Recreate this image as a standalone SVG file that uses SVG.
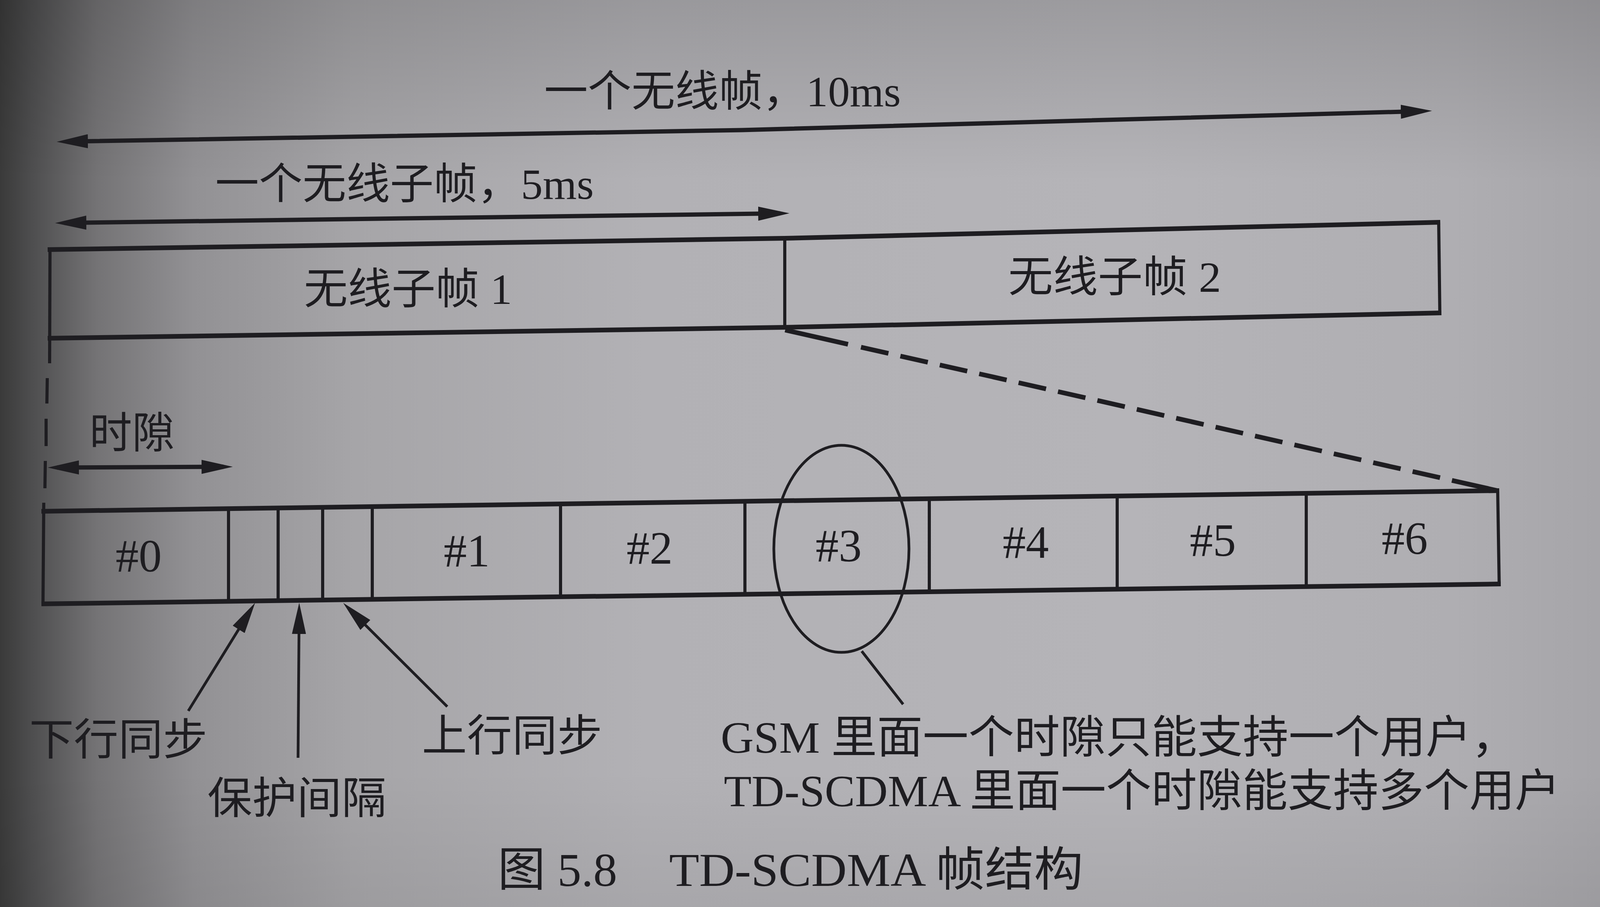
<svg xmlns="http://www.w3.org/2000/svg" width="4128" height="2322" viewBox="0 0 4128 2322">
<defs>
<linearGradient id="bgH" x1="0" y1="0" x2="1" y2="0">
<stop offset="0" stop-color="#3a3a3a"/>
<stop offset="0.02" stop-color="#4e4e4f"/>
<stop offset="0.06" stop-color="#747375"/>
<stop offset="0.12" stop-color="#929194"/>
<stop offset="0.22" stop-color="#a6a5a8"/>
<stop offset="0.4" stop-color="#b2b1b5"/>
<stop offset="0.7" stop-color="#b5b4b8"/>
<stop offset="0.9" stop-color="#afaeb2"/>
<stop offset="1" stop-color="#a5a4a8"/>
</linearGradient>
<linearGradient id="bgV" x1="0" y1="0" x2="0" y2="1">
<stop offset="0" stop-color="#000" stop-opacity="0.14"/>
<stop offset="0.2" stop-color="#000" stop-opacity="0"/>
<stop offset="0.85" stop-color="#000" stop-opacity="0"/>
<stop offset="1" stop-color="#000" stop-opacity="0.06"/>
</linearGradient>
<marker id="ah" markerUnits="userSpaceOnUse" viewBox="0 0 80 36" markerWidth="80" markerHeight="36" refX="56" refY="18" orient="auto-start-reverse">
<path d="M0,0 L80,18 L0,36 z" fill="#1e1d21"/>
</marker>
<style>
.ln{stroke:#1e1d21;fill:none;stroke-linecap:butt}
.h{stroke-width:12}
.v{stroke-width:8}
.a{stroke-width:11}
.thin{stroke-width:7}
.t{font-family:"Liberation Serif","Noto Sans CJK SC",serif;fill:#1e1d21}
.num{font-family:"Liberation Serif",serif;font-size:118px;fill:#1e1d21;text-anchor:middle}
</style>
</defs>

<rect x="0" y="0" width="4128" height="2322" fill="url(#bgH)"/>
<rect x="0" y="0" width="4128" height="2322" fill="url(#bgV)"/>

<g id="frame-label">
<text class="t" x="1393" y="272" font-size="110" textLength="913" lengthAdjust="spacingAndGlyphs">一个无线帧，10ms</text>
</g>
<g id="subframe-label">
<text class="t" x="551" y="509" font-size="110" textLength="969" lengthAdjust="spacingAndGlyphs">一个无线子帧，5ms</text>
</g>

<g id="subframe1">
<polyline class="ln h" points="122,639 2009,610"/>
<polyline class="ln h" points="122,866 2009,838"/>
<line class="ln v" x1="128" y1="635" x2="127" y2="930"/>
<line class="ln v" x1="2009" y1="606" x2="2009" y2="842"/>
<text class="t" x="778" y="778" font-size="110" textLength="533" lengthAdjust="spacingAndGlyphs">无线子帧 1</text>
</g>

<g id="subframe2">
<polyline class="ln h" points="2009,610 3687,569"/>
<polyline class="ln h" points="2009,838 3690,801"/>
<line class="ln v" x1="3683" y1="565" x2="3686" y2="805"/>
<text class="t" x="2581" y="747" font-size="110" textLength="545" lengthAdjust="spacingAndGlyphs">无线子帧 2</text>
</g>

<g id="slot-row">
<line class="ln h" x1="106" y1="1309" x2="3838" y2="1256"/>
<line class="ln h" x1="106" y1="1546" x2="3842" y2="1495"/>
<line class="ln v" x1="112" y1="1287" x2="110" y2="1551"/>
<line class="ln v" x1="3834" y1="1251" x2="3838" y2="1500"/>
<g id="slot0"><text class="num" x="355" y="1463">#0</text></g>
<g id="dwpts"><line class="ln v" x1="585" y1="1302" x2="585" y2="1540"/></g>
<g id="gp"><line class="ln v" x1="712" y1="1300" x2="712" y2="1538"/></g>
<g id="uppts"><line class="ln v" x1="826" y1="1299" x2="826" y2="1536"/></g>
<g id="slot1"><line class="ln v" x1="953" y1="1297" x2="953" y2="1534"/><text class="num" x="1195" y="1450">#1</text></g>
<g id="slot2"><line class="ln v" x1="1435" y1="1290" x2="1435" y2="1528"/><text class="num" x="1663" y="1443">#2</text></g>
<g id="slot3"><line class="ln v" x1="1907" y1="1283" x2="1907" y2="1521"/><text class="num" x="2147" y="1437">#3</text></g>
<g id="slot4"><line class="ln v" x1="2379" y1="1277" x2="2379" y2="1515"/><text class="num" x="2626" y="1428">#4</text></g>
<g id="slot5"><line class="ln v" x1="2860" y1="1270" x2="2860" y2="1508"/><text class="num" x="3105" y="1423">#5</text></g>
<g id="slot6"><line class="ln v" x1="3344" y1="1263" x2="3344" y2="1502"/><text class="num" x="3596" y="1418">#6</text></g>
</g>

<g id="highlight">
<ellipse cx="2154" cy="1405" rx="173" ry="265" class="ln thin"/>
</g>

<g id="connectors">
<polyline class="ln a" points="169,362.5 1900,333 3642,284.5" marker-start="url(#ah)" marker-end="url(#ah)"/>
<line class="ln a" x1="165" y1="570.7" x2="1997" y2="546.3" marker-start="url(#ah)" marker-end="url(#ah)"/>
<line class="ln a" x1="146" y1="1197" x2="572" y2="1195" marker-start="url(#ah)" marker-end="url(#ah)"/>
<line class="ln v" x1="121" y1="968" x2="120" y2="1033"/>
<line class="ln v" x1="118" y1="1072" x2="118" y2="1142"/>
<line class="ln v" x1="116" y1="1180" x2="115" y2="1250"/>
<line class="ln h" x1="2010" y1="845" x2="2170.9" y2="881.3"/>
<line class="ln h" x1="2204.1" y1="888.8" x2="3716.9" y2="1229.8" stroke-dasharray="72 31.4"/>
<line class="ln h" x1="3716.9" y1="1229.8" x2="3833" y2="1256"/>
<line class="ln thin" x1="482" y1="1820" x2="640.4" y2="1563.7" marker-end="url(#ah)"/>
<line class="ln thin" x1="763" y1="1940" x2="765.8" y2="1567" marker-end="url(#ah)"/>
<line class="ln thin" x1="1145" y1="1809" x2="895.6" y2="1560.5" marker-end="url(#ah)"/>
<line class="ln thin" x1="2206" y1="1667" x2="2312" y2="1803"/>
</g>

<g id="annotations">
<text class="t" x="229" y="1147" font-size="110" textLength="218" lengthAdjust="spacingAndGlyphs">时隙</text>
<text class="t" x="75" y="1933" font-size="112" textLength="456" lengthAdjust="spacingAndGlyphs">下行同步</text>
<text class="t" x="531" y="2083" font-size="112" textLength="458" lengthAdjust="spacingAndGlyphs">保护间隔</text>
<text class="t" x="1080" y="1923" font-size="112" textLength="462" lengthAdjust="spacingAndGlyphs">上行同步</text>
<text class="t" x="1845" y="1927" font-size="115" textLength="2039" lengthAdjust="spacingAndGlyphs">GSM 里面一个时隙只能支持一个用户，</text>
<text class="t" x="1853" y="2064" font-size="115" textLength="2141" lengthAdjust="spacingAndGlyphs">TD-SCDMA 里面一个时隙能支持多个用户</text>
</g>

<g id="caption">
<text class="t" x="1274" y="2268" font-size="120" textLength="306" lengthAdjust="spacingAndGlyphs">图 5.8</text>
<text class="t" x="1713" y="2268" font-size="120" textLength="1060" lengthAdjust="spacingAndGlyphs">TD-SCDMA 帧结构</text>
</g>
</svg>
